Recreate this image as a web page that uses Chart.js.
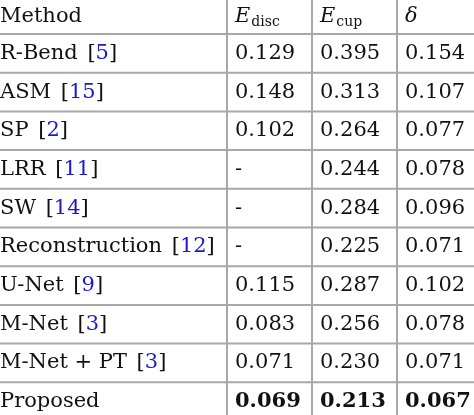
<!DOCTYPE html>
<html><head><meta charset="utf-8">
<script src="https://cdn.jsdelivr.net/npm/chart.js@4"></script>
<style>html,body{margin:0;padding:0;background:#fff}#w{width:474px;height:415px}</style>
</head><body><div id="w"><canvas id="c"></canvas></div>
<script>
const methods = ["R-Bend","ASM","SP","LRR","SW","Reconstruction","U-Net","M-Net","M-Net + PT","Proposed"];
const refs = ["5","15","2","11","14","12","9","3","3",""];
const eDisc = ["0.129","0.148","0.102","-","-","-","0.115","0.083","0.071","0.069"];
const eCup = ["0.395","0.313","0.264","0.244","0.284","0.225","0.287","0.256","0.230","0.213"];
const delta = ["0.154","0.107","0.077","0.078","0.096","0.071","0.102","0.078","0.071","0.067"];
const colX = [0, 227, 312, 397];
const SERIF = '"DejaVu Serif","Liberation Serif",serif';
const tablePlugin = {
  id: 'table',
  afterDraw(chart) {
    const ctx = chart.ctx;
    const headerH = 34, rowH = 38.7;
    ctx.save();
    ctx.strokeStyle = '#a8a8a8'; ctx.lineWidth = 2;
    for (let k = 0; k < methods.length; k++) {
      const y = headerH + k * rowH;
      ctx.beginPath(); ctx.moveTo(0, y); ctx.lineTo(474, y); ctx.stroke();
    }
    for (let i = 1; i < colX.length; i++) {
      ctx.beginPath(); ctx.moveTo(colX[i], 0); ctx.lineTo(colX[i], 415); ctx.stroke();
    }
    ctx.textBaseline = 'middle'; ctx.fillStyle = '#111';
    const hy = 17;
    ctx.font = '21px ' + SERIF;
    ctx.fillText('Method', 0, hy);
    ctx.font = 'italic 21px ' + SERIF;
    ctx.fillText('E', colX[1] + 8, hy);
    let w = ctx.measureText('E').width;
    ctx.font = '14px ' + SERIF; ctx.fillText('disc', colX[1] + 8 + w + 1, hy + 5);
    ctx.font = 'italic 21px ' + SERIF;
    ctx.fillText('E', colX[2] + 8, hy);
    ctx.font = '14px ' + SERIF; ctx.fillText('cup', colX[2] + 8 + w + 1, hy + 5);
    ctx.font = 'italic 21px ' + SERIF; ctx.fillText('δ', colX[3] + 8, hy);
    methods.forEach((m, i) => {
      const y = headerH + i * rowH + rowH / 2;
      const bold = i === methods.length - 1;
      ctx.font = '21px ' + SERIF; ctx.fillStyle = '#111';
      ctx.fillText(m, 0, y);
      if (refs[i]) {
        let x = ctx.measureText(m + ' ').width + 3;
        ctx.fillText('[', x, y); x += ctx.measureText('[').width;
        ctx.fillStyle = '#1a1acc'; ctx.fillText(refs[i], x, y); x += ctx.measureText(refs[i]).width;
        ctx.fillStyle = '#111'; ctx.fillText(']', x, y);
      }
      ctx.font = (bold ? 'bold ' : '') + '21px ' + SERIF;
      [eDisc, eCup, delta].forEach((arr, j) => ctx.fillText(arr[i], colX[j + 1] + 8, y));
    });
    ctx.restore();
  }
};
new Chart(document.getElementById('c'), {
  type: 'bar',
  data: { labels: methods, datasets: [{ data: eCup.map(Number), backgroundColor: 'rgba(0,0,0,0)' }] },
  options: {
    responsive: true, maintainAspectRatio: false, animation: false,
    layout: { padding: 0 },
    plugins: { legend: { display: false }, tooltip: { enabled: false } },
    scales: { x: { display: false }, y: { display: false } }
  },
  plugins: [tablePlugin]
});
</script></body></html>
